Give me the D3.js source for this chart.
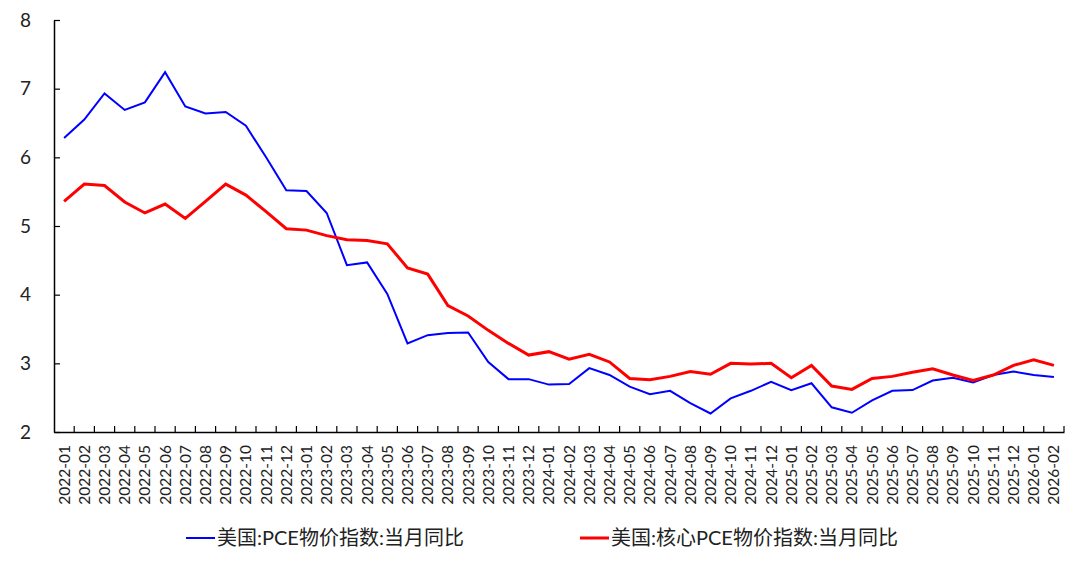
<!DOCTYPE html>
<html>
<head>
<meta charset="utf-8">
<script src="https://d3js.org/d3.v7.min.js"></script>
<style>
  body { margin:0; background:#fff; }
  svg text { font-family: Lato, "Noto Sans CJK SC", sans-serif; fill:#222; }
</style>
</head>
<body>
<svg id="chart" width="1080" height="561"></svg>
<script>
// months 2022-01 .. 2026-02
const months = [];
for (let yr = 2022; yr <= 2026; yr++) {
  for (let m = 1; m <= 12; m++) {
    if (yr === 2026 && m > 2) break;
    months.push(yr + "-" + String(m).padStart(2, "0"));
  }
}

const pce = [6.28, 6.55, 6.93, 6.69, 6.80, 7.24, 6.74, 6.64, 6.66, 6.46, 6.00, 5.52,
             5.51, 5.19, 4.43, 4.47, 4.01, 3.29, 3.41, 3.44, 3.45, 3.02, 2.77, 2.77,
             2.69, 2.70, 2.93, 2.83, 2.66, 2.55, 2.60, 2.42, 2.27, 2.49, 2.60, 2.73,
             2.61, 2.71, 2.36, 2.28, 2.46, 2.60, 2.61, 2.75, 2.79, 2.72, 2.83, 2.88,
             2.83, 2.80];
const corePce = [5.36, 5.61, 5.59, 5.35, 5.19, 5.32, 5.11, 5.36, 5.61, 5.45, 5.21, 4.96,
                 4.94, 4.86, 4.80, 4.79, 4.74, 4.39, 4.30, 3.84, 3.69, 3.48, 3.29, 3.12,
                 3.17, 3.06, 3.13, 3.02, 2.78, 2.76, 2.81, 2.88, 2.84, 3.00, 2.99, 3.00,
                 2.79, 2.97, 2.67, 2.62, 2.78, 2.81, 2.87, 2.92, 2.83, 2.75, 2.83, 2.97,
                 3.05, 2.97];
const yTicks = [2, 3, 4, 5, 6, 7, 8];
const seriesNames = ["美国:PCE物价指数:当月同比", "美国:核心PCE物价指数:当月同比"];
const seriesColors = ["#0000ff", "#ff0000"];

const svg = d3.select("#chart");
const plotLeft = 54, plotRight = 1064, plotTop = 20, plotBottom = 432;

const x = d3.scaleBand().domain(months).range([plotLeft, plotRight]);
const y = d3.scaleLinear().domain([2, 8]).range([plotBottom, plotTop]);

// y axis
const yAxis = svg.append("g").attr("transform", `translate(${plotLeft},0)`)
  .call(d3.axisLeft(y).tickValues(yTicks).tickFormat(d3.format("d"))
    .tickSizeInner(-6).tickSizeOuter(0).tickPadding(23));
yAxis.select(".domain").attr("stroke", "#000").attr("stroke-width", 1.5);
yAxis.selectAll(".tick line").attr("stroke", "#000").attr("stroke-width", 1.2);
yAxis.selectAll("text").style("font-size", "19px").attr("fill", "#222");

// x axis
const xAxis = svg.append("g").attr("transform", `translate(0,${plotBottom})`)
  .call(d3.axisBottom(x).tickSize(0).tickSizeOuter(0));
xAxis.select(".domain").attr("stroke", "#000").attr("stroke-width", 1.5);
xAxis.selectAll(".tick text")
  .style("font-size", "15.5px")
  .attr("text-anchor", "end")
  .attr("transform", "rotate(-90)")
  .attr("x", -13).attr("y", 0).attr("dy", "0.35em");
// boundary ticks pointing up
svg.append("g").selectAll("line")
  .data(months)
  .join("line")
  .attr("x1", (d, i) => plotLeft + (i + 1) * x.step())
  .attr("x2", (d, i) => plotLeft + (i + 1) * x.step())
  .attr("y1", plotBottom).attr("y2", plotBottom - 6)
  .attr("stroke", "#000").attr("stroke-width", 1.2);

// lines
const cx = d => x(d) + x.bandwidth() / 2;
const line = d3.line().x((d, i) => cx(months[i])).y(d => y(d));
svg.append("path").datum(pce).attr("d", line)
  .attr("fill", "none").attr("stroke", seriesColors[0]).attr("stroke-width", 2);
svg.append("path").datum(corePce).attr("d", line)
  .attr("fill", "none").attr("stroke", seriesColors[1]).attr("stroke-width", 3);

// legend
const legendX = [186, 580];
const lg = svg.append("g");
seriesNames.forEach((name, i) => {
  lg.append("line")
    .attr("x1", legendX[i]).attr("x2", legendX[i] + 29)
    .attr("y1", 538).attr("y2", 538)
    .attr("stroke", seriesColors[i]).attr("stroke-width", i === 0 ? 2 : 3);
  lg.append("text")
    .attr("x", legendX[i] + 31).attr("y", 538).attr("dy", "0.35em")
    .style("font-size", "20px")
    .text(name);
});
</script>
</body>
</html>
